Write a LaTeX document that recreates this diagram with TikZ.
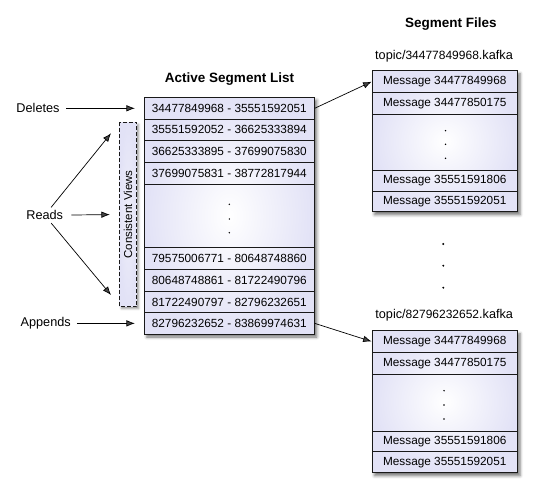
\documentclass[tikz,border=0pt]{standalone}
\usepackage{fontspec}
\setmainfont{Liberation Sans}
\usetikzlibrary{arrows.meta,shadows.blur}
\definecolor{lav}{RGB}{226,226,246}
\tikzset{
 box/.style={line width=0.8bp, draw=black!90, inner sep=0pt, minimum width=170bp, font=\fontsize{11.8bp}{14bp}\selectfont},
 msg/.style={box, minimum width=145.5bp},
 lbl/.style={inner sep=3bp, font=\fontsize{12.7bp}{15bp}\selectfont},
 ttl/.style={font=\fontsize{13.5bp}{16bp}\selectfont\bfseries},
 arr/.style={line width=0.7bp, -{Latex[length=8.5bp,width=6.5bp]}},
 panel/.style={blur shadow={shadow xshift=2.5bp, shadow yshift=-3bp, shadow blur radius=3bp, shadow opacity=55}, inner color=white, outer color=lav},
 dotmark/.style={fill=black},
}
\begin{document}
\begin{tikzpicture}[x=1bp,y=-1bp]
\useasboundingbox (0,0) rectangle (538,497);
% Active segment list
\node[ttl] (ast) at (229.5,79) {Active Segment List};
\path[panel] (144.3,97.3) rectangle (314.3,334);
\node[box,minimum height=22bp] (a1) at (229.3,108.3) {34477849968 - 35551592051};
\node[box,minimum height=21bp] (a2) at (229.3,129.8) {35551592052 - 36625333894};
\node[box,minimum height=22bp] (a3) at (229.3,151.3) {36625333895 - 37699075830};
\node[box,minimum height=22bp] (a4) at (229.3,173.3) {37699075831 - 38772817944};
\node[box,minimum height=63bp] (a5) at (229.3,215.8) {};
\node[box,minimum height=22bp] (a6) at (229.3,258.3) {79575006771 - 80648748860};
\node[box,minimum height=22bp] (a7) at (229.3,280.3) {80648748861 - 81722490796};
\node[box,minimum height=21.4bp] (a8) at (229.3,302) {81722490797 - 82796232651};
\node[box,minimum height=21.3bp] (a9) at (229.3,323.35) {82796232652 - 83869974631};
\foreach \y in {204.3,219,232.7} \fill[dotmark] (229.3,\y) circle (0.8bp);
% Consistent views
\node[draw=black!90, line width=0.8bp, dash pattern=on 4bp off 2bp, rotate=90,
      minimum width=184.4bp, minimum height=17.4bp, inner sep=0pt,
      inner color=white!40!lav, outer color=lav,
      blur shadow={shadow xshift=2bp, shadow yshift=-2bp, shadow blur radius=2bp, shadow opacity=40},
      font=\fontsize{11.5bp}{14bp}\selectfont] (cv) at (128,214.5) {Consistent Views};
% Labels and arrows
\node[lbl] (del) at (38,108.3) {Deletes};
\draw[arr, shorten >=9bp, shorten <=3.5bp] (del) -- (a1.west);
\node[lbl] (reads) at (44.7,215.3) {Reads};
\coordinate (r1) at (111,133.3);
\coordinate (r3) at (111,295);
\draw[arr, shorten >=9bp, shorten <=5bp] (reads) -- (cv.north);
\draw[arr] (reads) -- (r1);
\draw[arr] (reads) -- (r3);
\node[lbl] (app) at (45.7,323.35) {Appends};
\draw[arr, shorten >=9bp, shorten <=3bp] (app) -- (a9.west);
% Segment files
\node[ttl] (sft) at (450.8,24) {Segment Files};
\node[lbl] (t1) at (444,56.7) {topic/{\fontsize{12bp}{14bp}\selectfont 34477849968}.kafka};
\path[panel] (372,70.7) rectangle (517.5,211.7);
\node[msg,minimum height=22bp] (m1) at (444.75,81.7) {Message 34477849968};
\node[msg,minimum height=21.6bp] (m2) at (444.75,103.5) {Message 34477850175};
\node[msg,minimum height=55.7bp] (m3) at (444.75,142.15) {};
\node[msg,minimum height=21bp] (m4) at (444.75,180.5) {Message 35551591806};
\node[msg,minimum height=20.7bp] (m5) at (444.75,201.35) {Message 35551592051};
\foreach \y in {130.7,144.3,158.3} \fill[dotmark] (445.5,\y) circle (0.8bp);
\foreach \y in {244,265.7,287.7} \fill[dotmark] (443.3,\y) circle (1.1bp);
\node[lbl] (t2) at (444.2,315) {topic/{\fontsize{12bp}{14bp}\selectfont 82796232652}.kafka};
\path[panel] (372,330.7) rectangle (517.5,472.7);
\node[msg,minimum height=21.6bp] (l1) at (444.75,341.5) {Message 34477849968};
\node[msg,minimum height=22bp] (l2) at (444.75,363.3) {Message 34477850175};
\node[msg,minimum height=56.7bp] (l3) at (444.75,402.65) {};
\node[msg,minimum height=20.7bp] (l4) at (444.75,441.35) {Message 35551591806};
\node[msg,minimum height=21bp] (l5) at (444.75,462.2) {Message 35551592051};
\foreach \y in {390.7,405,419} \fill[dotmark] (444,\y) circle (0.8bp);
% Connectors
\draw[arr] (a1.east) -- (m1.west);
\draw[arr] (a9.east) -- (l1.west);
\end{tikzpicture}
\end{document}
